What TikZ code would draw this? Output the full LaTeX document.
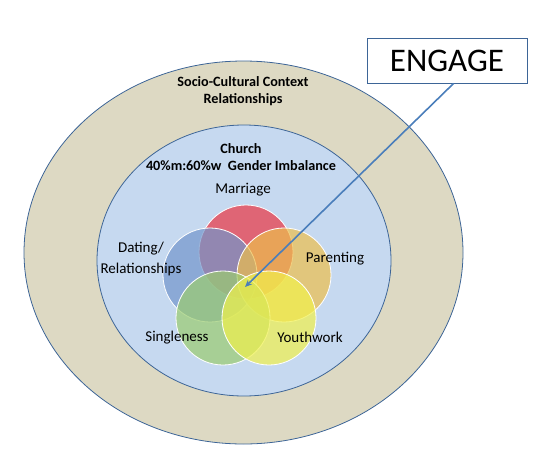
\documentclass[tikz,border=0pt]{standalone}
\usepackage{fontspec}
\setmainfont{Carlito}
\usetikzlibrary{positioning, arrows.meta}

\definecolor{ctxtan}{RGB}{221,217,195}
\definecolor{churchblue}{RGB}{198,217,240}
\definecolor{rimblue}{RGB}{61,101,151}
\definecolor{arrowblue}{RGB}{74,126,187}
\definecolor{marriagecol}{RGB}{235,53,66}
\definecolor{datingcol}{RGB}{114,150,203}
\definecolor{parentingcol}{RGB}{237,190,76}
\definecolor{singlecol}{RGB}{155,204,111}
\definecolor{youthcol}{RGB}{241,241,76}

\begin{document}
\begin{tikzpicture}[x=1pt,y=-1pt,
	venn/.style={circle,draw=white,line width=0.8pt,minimum size=94pt,inner sep=0pt,fill opacity=0.7},
	lbl/.style={font=\fontsize{15}{17}\selectfont,align=center},
	hdr/.style={font=\fontsize{14.2}{17}\selectfont\bfseries,align=center}]
	\useasboundingbox (0,0) rectangle (551,458);
	% context rings
	\filldraw[fill=ctxtan,draw=rimblue,line width=0.8pt] (243.5,252.5) ellipse [x radius=219.5pt,y radius=191.5pt];
	\filldraw[fill=churchblue,draw=rimblue,line width=0.8pt] (244,260.5) ellipse [x radius=147pt,y radius=135.5pt];
	% venn circles
	\node[venn,fill=marriagecol] (marriage) at (246,252) {};
	\node[venn,fill=datingcol] (dating) at (210,275) {};
	\node[venn,fill=parentingcol] (parenting) at (284,275) {};
	\node[venn,fill=singlecol] (singleness) at (223,318) {};
	\node[venn,fill=youthcol] (youthwork) at (269,318) {};
	% labels
	\node[hdr] (context) at (243,91) {Socio-Cultural Context\\Relationships};
	\node[hdr] (church) at (241,157) {Church\\40\%m:60\%w\ \ Gender Imbalance};
	\node[lbl] (marriagelbl) at (243,190) {Marriage};
	\node[lbl] (datinglbl) at (141,259) {Dating/\\[4pt]Relationships};
	\node[lbl] (parentinglbl) at (335,259) {Parenting};
	\node[lbl] (singlelbl) at (177,338) {Singleness};
	\node[lbl] (youthlbl) at (310,337) {Youthwork};
	% engage
	\node[draw=rimblue,line width=1pt,minimum width=160pt,minimum height=45pt,inner sep=0pt,
		font=\fontsize{33}{36}\selectfont] (engage) at (447,60.5) {ENGAGE};
	\coordinate (focus) at (245,287);
	\draw[arrowblue,line width=1.6pt,-{Stealth[length=7pt,width=6pt]}] ([xshift=-74pt]engage.south east) -- (focus);
\end{tikzpicture}
\end{document}
